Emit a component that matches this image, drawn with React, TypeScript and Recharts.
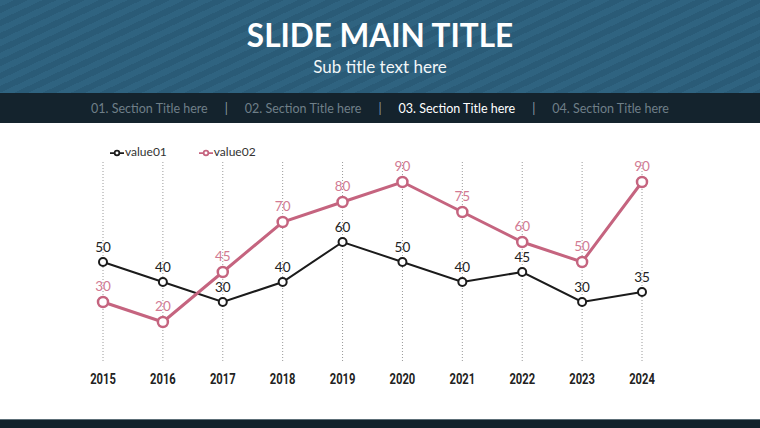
import { LineChart, Line, XAxis, YAxis, CartesianGrid, Legend, LabelList } from "recharts";

const years = ["2015", "2016", "2017", "2018", "2019", "2020", "2021", "2022", "2023", "2024"];
const value01 = [50, 40, 30, 40, 60, 50, 40, 45, 30, 35];
const value02 = [30, 20, 45, 70, 80, 90, 75, 60, 50, 90];
const sections = ["01. Section Title here", "02. Section Title here", "03. Section Title here", "04. Section Title here"];

const data = years.map((year, i) => ({ year, value01: value01[i], value02: value02[i] }));

const FONT = "Lato, 'Open Sans', sans-serif";
const PINK = "#c5647f";
const DARK = "#1b1b1b";

// condensed bold year labels
const YearTick = (props: any) => {
  const { x, y, payload } = props;
  return (
    <text
      transform={`translate(${x},${y + 14}) scale(0.8,1)`}
      textAnchor="middle"
      fill="#222"
      fontSize={14}
      fontWeight={700}
      fontFamily="Roboto, sans-serif"
    >
      {payload.value}
    </text>
  );
};

export default function App() {
  return (
    <div style={{ position: "absolute", left: 0, top: 0, width: 760, height: 428, background: "#fff", overflow: "hidden", fontFamily: FONT }}>
      {/* header */}
      <div
        style={{
          position: "absolute", left: 0, top: 0, width: 760, height: 93,
          background: "repeating-linear-gradient(155deg, #2f6380 0px, #2f6380 6px, #2a5b77 6px, #2a5b77 12px)",
        }}
      >
        <div style={{ position: "absolute", top: 15, width: 760, textAlign: "center", color: "#fff", fontWeight: 700, fontSize: 31.5, lineHeight: "40px" }}>
          SLIDE MAIN TITLE
        </div>
        <div style={{ position: "absolute", top: 56, width: 760, textAlign: "center", color: "#f2f6f8", fontSize: 17, lineHeight: "22px" }}>
          Sub title text here
        </div>
      </div>
      {/* nav */}
      <div style={{ position: "absolute", left: 0, top: 93, width: 760, height: 30, background: "#14232d", display: "flex", justifyContent: "center", alignItems: "center", fontSize: 12.5 }}>
        {sections.map((s, i) => (
          <span key={s} style={{ display: "flex", alignItems: "center" }}>
            {i > 0 && <span style={{ color: "#8a99a3", margin: "0 17px" }}>|</span>}
            <span style={{ color: i === 2 ? "#ffffff" : "#6f7f88" }}>{s}</span>
          </span>
        ))}
      </div>
      {/* footer */}
      <div style={{ position: "absolute", left: 0, top: 419, width: 760, height: 9, background: "#12232c", borderTop: "1px solid #5d6f78" }} />

      <div style={{ position: "absolute", left: 0, top: 0 }}>
        <LineChart width={760} height={428} data={data} margin={{ top: 142, right: 118, bottom: 36, left: 103 }}>
          <CartesianGrid horizontal={false} stroke="#9a9a9a" strokeDasharray="1 2" />
          <XAxis dataKey="year" axisLine={false} tickLine={false} height={30} tick={<YearTick />} />
          <YAxis hide domain={[0, 100]} />
          <Legend
            verticalAlign="top"
            align="left"
            iconType="line"
            iconSize={14}
            wrapperStyle={{ position: "absolute", top: 144, left: 110, width: 300, height: 20, fontSize: 12 }}
            formatter={(value: string) => <span style={{ color: "#333", marginLeft: -3, marginRight: 22 }}>{value}</span>}
          />
          <Line
            dataKey="value01"
            stroke={DARK}
            strokeWidth={2}
            dot={{ r: 4, fill: "#fff", stroke: DARK, strokeWidth: 2 }}
            isAnimationActive={false}
          >
            <LabelList dataKey="value01" position="top" offset={10} style={{ fill: "#222", fontSize: 13.5, fontFamily: FONT }} />
          </Line>
          <Line
            dataKey="value02"
            stroke={PINK}
            strokeWidth={3}
            dot={{ r: 5, fill: "#fff", stroke: PINK, strokeWidth: 2.5 }}
            isAnimationActive={false}
          >
            <LabelList dataKey="value02" position="top" offset={11} style={{ fill: "#d27a93", fontSize: 13.5, fontFamily: FONT }} />
          </Line>
        </LineChart>
      </div>
    </div>
  );
}
